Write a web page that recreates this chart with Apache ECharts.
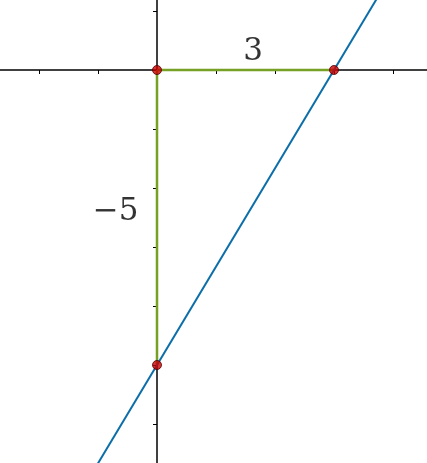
<!DOCTYPE html>
<html><head><meta charset="utf-8">
<script src="https://cdn.jsdelivr.net/npm/echarts@6/dist/echarts.min.js"></script>
<style>html,body{margin:0;padding:0;background:#fff}#c{width:427px;height:463px}</style>
</head><body><div id="c"></div>
<script>
// Line y = 5/3 x - 5 through intercepts
const linePoints = [[-1.2, -7], [4.2, 2]];
const horizSegment = [[0, 0], [3, 0]];
const vertSegment = [[0, 0], [0, -5]];
const keyPoints = [[0, 0], [3, 0], [0, -5]];
const textLabels = [
  {value: [1.627, 0.31], text: '3'},
  {value: [-0.703, -2.40], text: '\u22125'}
];
const xTicksRange = [-3, 5];
const yTicksRange = [-7, 2];

const chart = echarts.init(document.getElementById('c'), null, {renderer: 'canvas'});
const axisCommon = {
  type: 'value', interval: 1,
  splitLine: {show: false},
  axisLabel: {show: false},
  axisLine: {onZero: true, lineStyle: {color: '#000', width: 1.5}},
  axisTick: {show: true, inside: false, length: 4, lineStyle: {color: '#000', width: 1}}
};
const labelStyle = {show: true, position: 'inside', color: '#000', fontFamily: 'DejaVu Serif',
  fontSize: 31};
chart.setOption({
  animation: false,
  grid: {left: -20, right: -25, top: -48, bottom: -20, containLabel: false, outerBoundsMode: 'none'},
  xAxis: Object.assign({}, axisCommon, {min: xTicksRange[0], max: xTicksRange[1]}),
  yAxis: Object.assign({}, axisCommon, {min: yTicksRange[0], max: yTicksRange[1]}),
  series: [
    {type: 'line', data: horizSegment, symbol: 'none', lineStyle: {color: '#76a125', width: 2.5}, z: 2},
    {type: 'line', data: vertSegment, symbol: 'none', lineStyle: {color: '#76a125', width: 2.5}, z: 2},
    {type: 'line', data: linePoints, symbol: 'none', lineStyle: {color: '#0b6ea8', width: 2}, z: 3},
    {type: 'scatter', data: keyPoints, symbolSize: 9, z: 4,
      itemStyle: {color: '#cc0000', borderColor: '#4a0000', borderWidth: 1}},
    {type: 'scatter', symbolSize: 0, z: 5, silent: true,
      data: textLabels.map(l => ({value: l.value, label: Object.assign({}, labelStyle, {formatter: l.text})})),
      label: labelStyle}
  ]
});
</script></body></html>
